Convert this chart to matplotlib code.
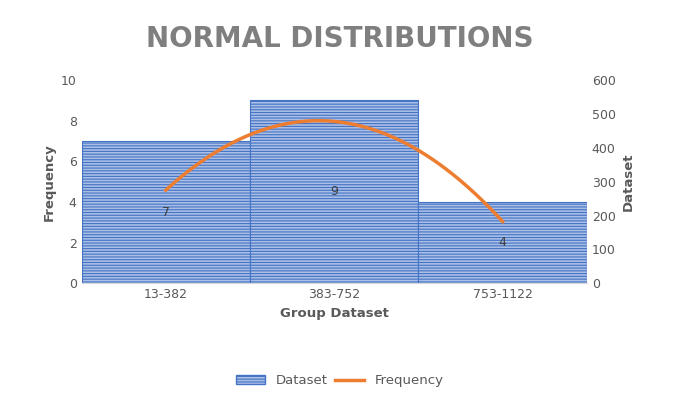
import numpy as np
import matplotlib.pyplot as plt
from matplotlib.patches import Patch
from matplotlib.lines import Line2D

plt.rcParams['hatch.linewidth'] = 0.8

groups = ['13-382', '383-752', '753-1122']
dataset = [7, 9, 4]
frequency = [275, 478, 182]

fig = plt.figure(figsize=(6.8, 4.11), dpi=100)
ax = fig.add_axes([0.12, 0.311, 0.743, 0.494])
ax2 = ax.twinx()

x = np.arange(len(groups))
plt.rcParams['hatch.color'] = '#4472C4'
bars = ax.bar(x, dataset, width=1.0, color='#A9BFE6', edgecolor='#4472C4',
              hatch='------', linewidth=0.8, zorder=2)
for b, v in zip(bars, dataset):
    ax.text(b.get_x() + b.get_width() / 2, v / 2, str(v), ha='center', va='center',
            fontsize=9, color='#404040', zorder=3)

# smooth curve through the three points (quadratic fit for display)
coef = np.polyfit(x, frequency, 2)
xs = np.linspace(x[0], x[-1], 100)
ax2.plot(xs, np.polyval(coef, xs), color='#ED7D31', lw=2.5, zorder=4)

ax.set_xlim(-0.5, 2.5)
ax.set_ylim(0, 10)
ax2.set_ylim(0, 600)
ax.set_xticks(x)
ax.set_xticklabels(groups)
ax.set_yticks(range(0, 11, 2))
ax2.set_yticks(range(0, 601, 100))
for a in (ax, ax2):
    a.tick_params(length=0, labelsize=9, colors='#595959')
    for s in a.spines.values():
        s.set_visible(False)
ax.spines['bottom'].set_visible(True)
ax.spines['bottom'].set_color('#D9D9D9')
ax.set_zorder(ax2.get_zorder() - 1) if False else None

ax.set_xlabel('Group Dataset', fontsize=9.5, fontweight='bold', color='#595959')
ax.set_ylabel('Frequency', fontsize=9.5, fontweight='bold', color='#595959')
ax2.set_ylabel('Dataset', fontsize=9.5, fontweight='bold', color='#595959')

fig.text(0.5, 0.905, 'NORMAL DISTRIBUTIONS', ha='center', va='center', fontsize=20,
         fontweight='bold', color='#7F7F7F')

handles = [Patch(facecolor='#A9BFE6', edgecolor='#4472C4', hatch='------', label='Dataset'),
           Line2D([0], [0], color='#ED7D31', lw=2.5, label='Frequency')]
fig.legend(handles=handles, loc='center', bbox_to_anchor=(0.5, 0.073), ncol=2,
           frameon=False, fontsize=9.5, handlelength=2.2, columnspacing=0.6,
           labelcolor='#595959')

fig.savefig('out.png', dpi=100)
